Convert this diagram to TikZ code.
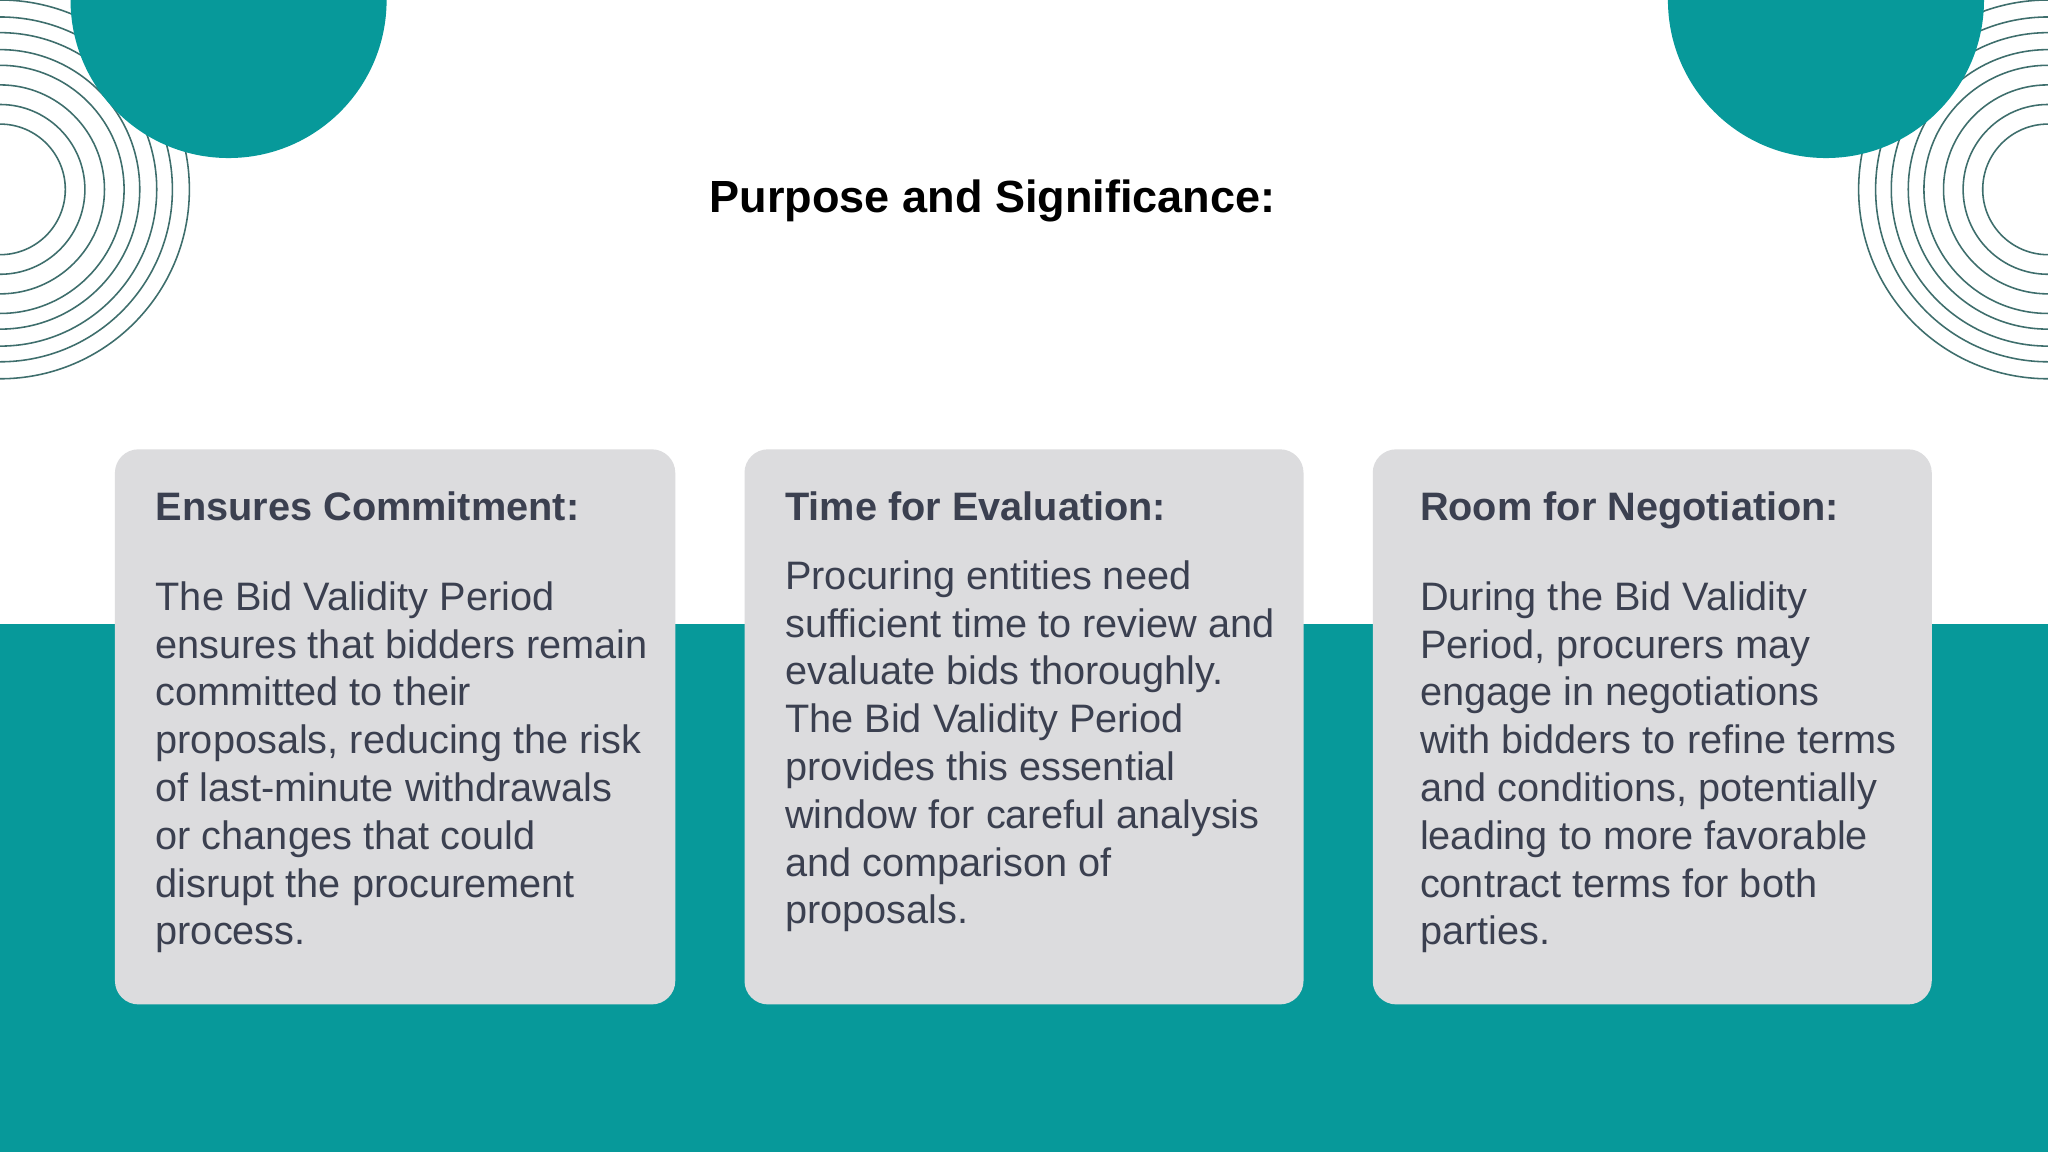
\documentclass[tikz,border=0pt]{standalone}
\usepackage{fontspec}
\setmainfont{Liberation Sans}
\definecolor{teal1}{HTML}{07999A}
\definecolor{ring}{HTML}{3E6E6C}
\definecolor{boxg}{HTML}{DCDCDE}
\definecolor{txt}{HTML}{3B4050}
\begin{document}
\begin{tikzpicture}[x=1pt,y=-1pt,
  card/.style={fill=boxg,rounded corners=18pt},
  head/.style={anchor=north west,inner sep=0pt,text=txt,font=\fontsize{30.4}{36.6}\selectfont\bfseries},
  body/.style={anchor=north west,inner sep=0pt,text=txt,align=left,font=\fontsize{30.4}{36.6}\selectfont},
  rg/.style={draw=ring,line width=1.2pt}]
\useasboundingbox (0,0) rectangle (1568,882);
\fill[white] (0,0) rectangle (1568,882);
\fill[teal1] (0,478) rectangle (1568,882);
\begin{scope}
\clip (0,0) rectangle (1568,882);
\foreach \r in {145,132,120,107,95,80,65,50} {
  \draw[rg] (0,145) circle[radius=\r];
  \draw[rg] (1568,145) circle[radius=\r];
}
\fill[teal1] (175,0) circle[radius=121];
\fill[teal1] (1398,0) circle[radius=121];
\end{scope}
\node[anchor=base,inner sep=0pt,font=\fontsize{34.5}{40}\selectfont\bfseries] (title) at (760,163) {Purpose and Significance:};
\fill[card] (88,344) rectangle (517,769);
\fill[card] (570,344) rectangle (998,769);
\fill[card] (1051,344) rectangle (1479,769);
\node[head] (h1) at (119,376) {Ensures Commitment:};
\node[body] (b1) at (119,445) {The Bid Validity Period\\ensures that bidders remain\\committed to their\\proposals, reducing the risk\\of last-minute withdrawals\\or changes that could\\disrupt the procurement\\process.};
\node[head] (h2) at (601,376) {Time for Evaluation:};
\node[body] (b2) at (601,429) {Procuring entities need\\sufficient time to review and\\evaluate bids thoroughly.\\The Bid Validity Period\\provides this essential\\window for careful analysis\\and comparison of\\proposals.};
\node[head] (h3) at (1087,376) {Room for Negotiation:};
\node[body] (b3) at (1087,445) {During the Bid Validity\\Period, procurers may\\engage in negotiations\\with bidders to refine terms\\and conditions, potentially\\leading to more favorable\\contract terms for both\\parties.};
\end{tikzpicture}
\end{document}
